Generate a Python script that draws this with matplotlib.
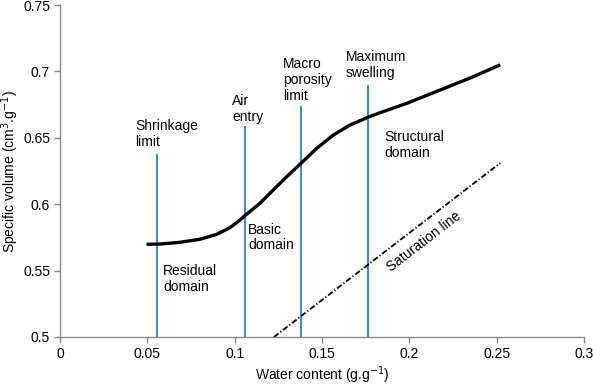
import matplotlib
matplotlib.use("Agg")
import matplotlib.pyplot as plt

# Data
curve_x = [0.0496, 0.0573, 0.0687, 0.0802, 0.0897, 0.0973, 0.1031, 0.1055, 0.1145, 0.1221, 0.1298, 0.1380, 0.1470, 0.1565, 0.1660, 0.1762, 0.1832, 0.1986, 0.2176, 0.2366, 0.252]
curve_y = [0.5698, 0.5700, 0.5713, 0.5736, 0.5773, 0.5823, 0.5881, 0.5910, 0.6007, 0.6107, 0.6207, 0.6308, 0.6421, 0.6521, 0.6596, 0.6654, 0.6689, 0.6760, 0.6860, 0.6960, 0.7050]
sat_x = [0.1225, 0.252]
sat_y = [0.500, 0.631]
limit_x = [0.0555, 0.106, 0.138, 0.1763]
limit_top = [0.637, 0.658, 0.673, 0.689]
limit_labels = ["Shrinkage\nlimit", "Air\nentry", "Macro\nporosity\nlimit", "Maximum\nswelling"]
limit_label_pos = [(0.043, 0.664), (0.0985, 0.683), (0.1277, 0.7106), (0.1637, 0.716)]
domain_labels = ["Residual\ndomain", "Basic\ndomain", "Structural\ndomain"]
domain_pos = [(0.059, 0.555), (0.1076, 0.586), (0.1855, 0.6556)]
xticks = [0, 0.05, 0.1, 0.15, 0.2, 0.25, 0.3]
xticklabels = ["0", "0.05", "0.1", "0.15", "0.2", "0.25", "0.3"]
yticks = [0.5, 0.55, 0.6, 0.65, 0.7, 0.75]
yticklabels = ["0.5", "0.55", "0.6", "0.65", "0.7", "0.75"]

plt.rcParams['font.family'] = ['Liberation Sans', 'DejaVu Sans']
fig = plt.figure(figsize=(5.93, 3.86), dpi=100)
ax = fig.add_axes([0.101, 0.127, 0.884, 0.860])

blue = '#3d85e8'
for x, top in zip(limit_x, limit_top):
    ax.plot([x, x], [0.5, top], color=blue, lw=1.4, zorder=2)

ax.plot(curve_x, curve_y, color='black', lw=2.4, solid_capstyle='butt',
        solid_joinstyle='round', zorder=3)
ax.plot(sat_x, sat_y, color='black', lw=1.3, linestyle=(0, (3.2, 1.2, 0.7, 1.2)), zorder=3)

fs = 10
for lab, (x, y) in zip(limit_labels, limit_label_pos):
    ax.text(x, y, lab, ha='left', va='top', fontsize=fs, linespacing=1.15)
for lab, (x, y) in zip(domain_labels, domain_pos):
    ax.text(x, y, lab, ha='left', va='top', fontsize=fs, linespacing=1.15)
ax.text(0.2085, 0.5715, "Saturation line", rotation=37.5, ha='center', va='center',
        fontsize=fs, rotation_mode='anchor')

ax.set_xlim(0, 0.3)
ax.set_ylim(0.5, 0.75)
ax.set_xticks(xticks)
ax.set_xticklabels(xticklabels, fontsize=fs)
ax.set_yticks(yticks)
ax.set_yticklabels(yticklabels, fontsize=fs)
for s in ['top', 'right']:
    ax.spines[s].set_visible(False)
for s in ['left', 'bottom']:
    ax.spines[s].set_color('#888888')
    ax.spines[s].set_linewidth(1.0)
ax.tick_params(axis='both', colors='#888888', labelcolor='black', length=4, width=1.0, pad=3)

fig.text(60 / 593 + 524 / 593 / 2, 1 - 375 / 386, "Water content (g.g$^{-1}$)",
         ha='center', va='center', fontsize=fs)
fig.text(10 / 593, 1 - 171 / 386, "Specific volume (cm$^{3}$.g$^{-1}$)",
         ha='center', va='center', rotation=90, fontsize=fs)

fig.savefig("out.png", dpi=100)
